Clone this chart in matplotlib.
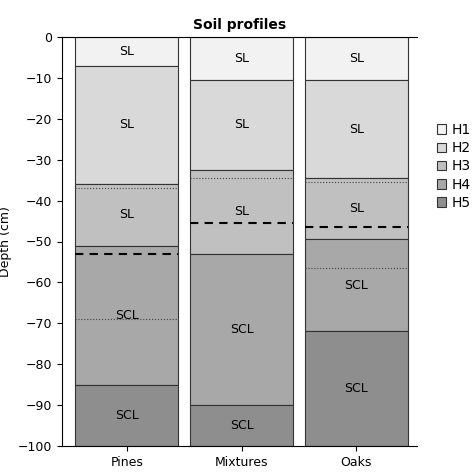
import matplotlib
matplotlib.use("Agg")
import matplotlib.pyplot as plt

sites = ["Pines", "Mixtures", "Oaks"]
horizons = ["H1", "H2", "H3", "H4", "H5"]
# horizon bottom depths (cm) per site
bottoms = {
    "Pines":    [-7, -36, -51, -85, -100],
    "Mixtures": [-10.5, -32.5, -53, -90, -100],
    "Oaks":     [-10.5, -34.5, -49.5, -72, -100],
}
textures = {
    "Pines":    ["SL", "SL", "SL", "SCL", "SCL"],
    "Mixtures": ["SL", "SL", "SL", "SCL", "SCL"],
    "Oaks":     ["SL", "SL", "SL", "SCL", "SCL"],
}
dotted = {"Pines": [-37, -69], "Mixtures": [-34.5], "Oaks": [-35.5, -56.5]}
dashed = {"Pines": -53, "Mixtures": -45.5, "Oaks": -46.5}
colors = ["#f2f2f2", "#d9d9d9", "#c0c0c0", "#a8a8a8", "#8e8e8e"]

fig = plt.figure(figsize=(4.74, 4.74), dpi=100)
ax = fig.add_axes([62/474, 28/474, 355/474, 409/474])
w = 0.9
for i, s in enumerate(sites):
    top = 0
    for j, b in enumerate(bottoms[s]):
        ax.bar(i, b - top, bottom=top, width=w, color=colors[j], edgecolor="#333333",
               linewidth=0.8, label=horizons[j] if i == 0 else None)
        ax.text(i, (top + b) / 2, textures[s][j], ha="center", va="center", fontsize=9)
        top = b
    for d in dotted[s]:
        ax.plot([i - w/2, i + w/2], [d, d], color="#444444", linestyle=":", linewidth=0.8)
    ax.plot([i - w/2, i + w/2], [dashed[s]] * 2, color="black", linestyle=(0, (4, 3)), linewidth=1.5)

ax.set_xlim(-0.565, 2.53)
ax.set_ylim(-100, 0)
ax.set_yticks(range(-100, 1, 10))
ax.set_xticks(range(3))
ax.set_xticklabels(sites, fontsize=9)
ax.tick_params(labelsize=9)
ax.set_ylabel("Depth (cm)", fontsize=9)
ax.spines["right"].set_visible(False)
ax.set_title("Soil profiles", fontsize=10, fontweight="bold")
ax.legend(loc="upper left", bbox_to_anchor=(1.02, 0.82), frameon=False, fontsize=10,
          handlelength=0.7, handleheight=0.7, handletextpad=0.4, labelspacing=0.3)
fig.savefig("out.png", dpi=100)
